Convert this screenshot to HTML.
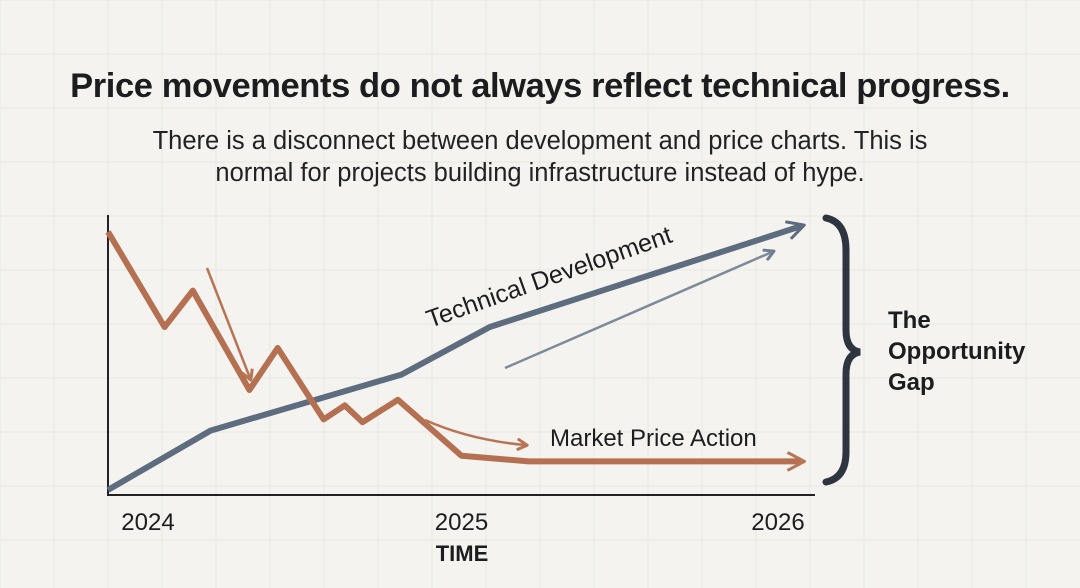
<!DOCTYPE html>
<html><head><meta charset="utf-8"><style>
body{margin:0;width:1080px;height:588px;overflow:hidden;background:#f4f3ef;font-family:"Liberation Sans",sans-serif;}
#wrap{position:relative;width:1080px;height:588px;}
.t{position:absolute;color:#1d1d1f;}
</style></head><body>
<div id="wrap">
<svg id="bg" width="1080" height="588" style="position:absolute;left:0;top:0"></svg>
<div class="t" style="left:0;width:1080px;top:67px;text-align:center;font-size:34.5px;font-weight:bold;letter-spacing:-0.4px">Price movements do not always reflect technical progress.</div>
<div class="t" style="left:130px;width:820px;top:125px;text-align:center;font-size:25.5px;line-height:32px;color:#222">There is a disconnect between development and price charts. This is normal for projects building infrastructure instead of hype.</div>
<svg id="chart" width="1080" height="588" style="position:absolute;left:0;top:0"></svg>
</div>
<script>
const tdYears=[2024,2024.29,2024.83,2025.08,2025.96];
const tdValues=[1.8,23,43,60,96];
const mpYears=[2024,2024.16,2024.24,2024.4,2024.48,2024.61,2024.67,2024.72,2024.82,2025,2025.19,2025.96];
const mpValues=[94,60,73,37.5,52.5,27,32,26,34,14,12,12];
const xTicks=["2024","2025","2026"];
const NS="http://www.w3.org/2000/svg";
const X=v=>108+(v-2024)/2*707, Y=v=>495-v/100*280;
const bg=document.getElementById('bg'), c=document.getElementById('chart');
function mk(p,tag,a){const e=document.createElementNS(NS,tag);for(const k in a)e.setAttribute(k,a[k]);p.appendChild(e);return e;}
for(let x=0;x<1080;x+=54){const l=mk(bg,'line',{x1:x,y1:0,x2:x,y2:588,stroke:'#e9e8e3','stroke-width':1});}
for(let y=0;y<588;y+=54){const l=mk(bg,'line',{x1:0,y1:y,x2:1080,y2:y,stroke:'#e9e8e3','stroke-width':1});}
const defs=mk(c,'defs',{});
function marker(id,col,s){const m=mk(defs,'marker',{id:id,markerWidth:s+2,markerHeight:s+2,refX:s*0.8,refY:s/2+1,orient:'auto',markerUnits:'userSpaceOnUse'});mk(m,'path',{d:`M1,1 L${s},${s/2+1} L1,${s+1}`,fill:'none',stroke:col,'stroke-width':3,'stroke-linejoin':'round'});}
marker('ab','#5c6b7d',18);marker('ac','#b87555',18);marker('sb','#6f7e90',11);marker('sc','#b87555',11);
let a=mk(c,'line',{x1:108,y1:215,x2:108,y2:496,stroke:'#222','stroke-width':2});
a=mk(c,'line',{x1:107,y1:495,x2:815,y2:495,stroke:'#222','stroke-width':2});
xTicks.forEach((t,i)=>{const e=mk(c,'text',{x:X(2024+i)+(i==0?40:i==2?-37:0),y:530,'text-anchor':'middle','font-size':24,fill:'#1d1d1f','font-family':'Liberation Sans'});e.textContent=t;});
a=mk(c,'text',{x:462,y:561,'text-anchor':'middle','font-size':22,'font-weight':'bold',fill:'#1d1d1f'});a.textContent='TIME';
const pts=(xs,ys)=>xs.map((v,i)=>X(v)+','+Y(ys[i])).join(' ');
let p=mk(c,'polyline',{points:pts(tdYears,tdValues),fill:'none',stroke:'#5d6c7e','stroke-width':6,'stroke-linejoin':'round','marker-end':'url(#ab)'});
p=mk(c,'polyline',{points:pts(mpYears,mpValues),fill:'none',stroke:'#b47050','stroke-width':6,'stroke-linejoin':'round','marker-end':'url(#ac)'});
p=mk(c,'line',{x1:505,y1:368,x2:772,y2:252,stroke:'#7d8a99','stroke-width':2.5,'marker-end':'url(#sb)'});
p=mk(c,'line',{x1:207,y1:268,x2:250,y2:378,stroke:'#b87555','stroke-width':2.5,'marker-end':'url(#sc)'});
p=mk(c,'path',{d:'M425,420 Q470,440 525,445',fill:'none',stroke:'#b87555','stroke-width':2.5,'marker-end':'url(#sc)'});
a=mk(c,'text',{x:430,y:328,'font-size':25,fill:'#1d1d1f',transform:'rotate(-19.5 430 328)'});a.textContent='Technical Development';
a=mk(c,'text',{x:550,y:446,'font-size':24,fill:'#1d1d1f'});a.textContent='Market Price Action';
a=mk(c,'path',{d:'M826,218 Q846,222 846,250 L846,330 Q846,350 860,352 Q846,354 846,374 L846,452 Q846,478 826,482',fill:'none',stroke:'#2f3540','stroke-width':7,'stroke-linecap':'round'});
['The','Opportunity','Gap'].forEach((w,i)=>{const e=mk(c,'text',{x:888,y:328+i*31,'font-size':24,'font-weight':'bold',fill:'#1d1d1f'});e.textContent=w;});
</script>
</body></html>
